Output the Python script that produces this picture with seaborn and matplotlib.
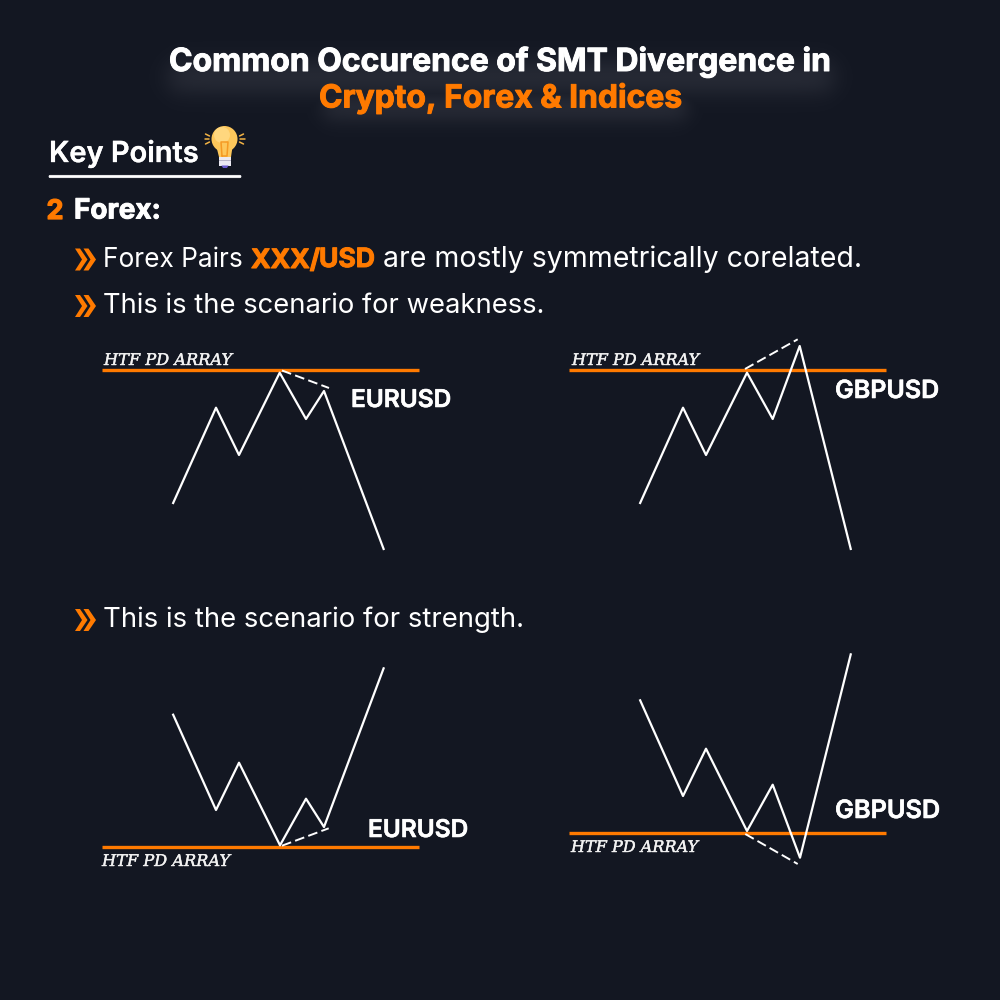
import numpy as np
import matplotlib
matplotlib.use("Agg")
import matplotlib.pyplot as plt
import matplotlib.patheffects as pe
from matplotlib.patches import Circle, Polygon, Rectangle, FancyBboxPatch
import seaborn as sns

BG = "#131722"
ORANGE = "#ff7a00"
SANS = "Inter"
SERIF = "DejaVu Serif"

# price paths (pixels, y going down)
weak_eur_x = [172.7, 216, 239, 279.7, 306, 324, 384]
weak_eur_y = [504, 407.7, 455, 372.7, 419, 391, 550]
weak_gbp_x = [639.7, 683, 706, 747, 772.7, 799.7, 851]
weak_gbp_y = [504, 407.7, 455, 372.7, 419, 346, 550]
strong_eur_x = [172.7, 216, 239, 280, 306, 324, 384]
strong_eur_y = [713.7, 810, 762.7, 845.3, 798.7, 827, 667.3]
strong_gbp_x = [639.7, 683, 706, 747, 772.7, 800, 851]
strong_gbp_y = [699.3, 796, 748.7, 831, 784.7, 857.7, 653.3]

# dashed lines joining the two swing points
weak_eur_dash = ([282, 329], [370.5, 388])
weak_gbp_dash = ([745, 797.7], [369, 339.3])
strong_eur_dash = ([282, 328.7], [845.7, 828.3])
strong_gbp_dash = ([745.3, 797.7], [834, 864])

# orange HTF PD array levels
level_x = [[102, 419], [569, 886], [102, 419], [569, 886]]
level_y = [370.3, 370.3, 847.3, 833.3]

paths = [(weak_eur_x, weak_eur_y), (weak_gbp_x, weak_gbp_y),
         (strong_eur_x, strong_eur_y), (strong_gbp_x, strong_gbp_y)]
dashes = [weak_eur_dash, weak_gbp_dash, strong_eur_dash, strong_gbp_dash]

sns.set_theme(style="dark", rc={"axes.facecolor": BG, "figure.facecolor": BG})

fig = plt.figure(figsize=(10, 10), dpi=100)
ax = fig.add_axes([0, 0, 1, 1])


def box_glow(xx, yy, x0, x1, y0, y1, blur):
    gx = 1 / (1 + np.exp((x0 - xx) / blur)) * 1 / (1 + np.exp((xx - x1) / blur))
    gy = 1 / (1 + np.exp((y0 - yy) / blur)) * 1 / (1 + np.exp((yy - y1) / blur))
    return gx * gy


# soft grey glow behind the title
xx, yy = np.meshgrid(np.arange(0, 1000, 2.0), np.arange(0, 220, 2.0))
glow = np.maximum(box_glow(xx, yy, 168, 832, 62, 90, 7),
                  box_glow(xx, yy, 322, 686, 95, 118, 6))
rgba = np.zeros(glow.shape + (4,))
rgba[..., :3] = matplotlib.colors.to_rgb("#3a3d47")
rgba[..., 3] = glow * 0.62
ax.imshow(rgba, extent=(0, 1000, 220, 0), aspect="auto", zorder=0, interpolation="bilinear")

for (lx, ly) in zip(level_x, level_y):
    sns.lineplot(x=lx, y=[ly, ly], color=ORANGE, linewidth=2.4, ax=ax, zorder=3,
                 estimator=None, sort=False, solid_capstyle="butt")
for (px, py) in paths:
    sns.lineplot(x=px, y=py, color="white", linewidth=1.6, ax=ax, zorder=4,
                 estimator=None, sort=False, solid_capstyle="butt")
for (dx, dy) in dashes:
    sns.lineplot(x=dx, y=dy, color="white", linewidth=1.4, ax=ax, zorder=4,
                 estimator=None, sort=False, linestyle=(0, (5, 2.2)))

ax.set_xlim(0, 1000)
ax.set_ylim(1000, 0)
ax.axis("off")
renderer = fig.canvas.get_renderer()


def fit_text(s, x0, x1, base, color="white", weight="normal", family=SANS, style="normal", stroke=0):
    # shrink or grow the font till the string spans x0..x1
    t = ax.text(x0, base, s, color=color, fontweight=weight, family=family, style=style,
                fontsize=20, va="baseline", ha="left", zorder=6)
    w = t.get_window_extent(renderer).width
    t.set_fontsize(20 * (x1 - x0) / w)
    if stroke:
        t.set_path_effects([pe.withStroke(linewidth=stroke, foreground=color)])
    return t


fit_text("Common Occurence of SMT Divergence in", 169, 832, 71, weight="bold", stroke=0.7)
fit_text("Crypto, Forex & Indices", 319, 683, 107.5, color=ORANGE, weight="bold", stroke=0.7)
fit_text("Key Points", 49, 199, 162, weight="semibold", stroke=0.25)
fit_text("2", 46.5, 63.5, 219, color=ORANGE, weight="bold", stroke=0.9)
fit_text("Forex:", 74, 161, 218.5, weight="bold", stroke=0.7)

fit_text("Forex Pairs", 103, 243, 267)
fit_text("XXX/", 251, 320, 268, color=ORANGE, weight="bold", stroke=0.8)
fit_text("USD", 319, 375, 267, color=ORANGE, weight="bold", stroke=0.7)
fit_text("are mostly symmetrically corelated.", 383, 862, 267)
fit_text("This is the scenario for weakness.", 103, 544, 313)
fit_text("This is the scenario for strength.", 103, 524, 627)

fit_text("EURUSD", 351, 451, 407, weight="semibold", stroke=0.4)
fit_text("GBPUSD", 835, 939, 398, weight="semibold", stroke=0.4)
fit_text("EURUSD", 368, 468, 837, weight="semibold", stroke=0.4)
fit_text("GBPUSD", 835, 940, 818, weight="semibold", stroke=0.4)

for (x0, x1, b) in [(104, 232, 365), (572, 699, 365), (102, 230, 866), (571, 698, 852)]:
    fit_text("HTF PD ARRAY", x0, x1, b, color="#f2f2f2", family=SERIF, style="italic", stroke=0.3)

# underline under Key Points
ax.add_patch(FancyBboxPatch((49, 175.3), 192, 2.4, boxstyle="round,pad=0,rounding_size=1.2",
                            fc="white", ec="white", lw=0.5, zorder=5))


def chevrons(xl, yc):
    # double arrow bullet
    for off in (0, 8.5):
        x = xl + off
        ax.add_patch(Polygon([(x, yc - 11), (x + 5, yc - 11), (x + 12.5, yc), (x + 5, yc + 11),
                              (x, yc + 11), (x + 7, yc)], closed=True,
                             fc=ORANGE, ec="none", zorder=5))


for yc in (259.5, 306, 620):
    chevrons(75, yc)

# light bulb next to Key Points
ax.add_patch(Circle((224.5, 139), 13, fc="#fdc75b", ec="none", zorder=5))
ax.add_patch(Polygon([(216.5, 147), (232.5, 147), (231, 157), (219, 157)], fc="#fdc75b", ec="none", zorder=5))
ax.add_patch(Circle((222, 135), 8, fc="#ffd77e", ec="none", zorder=5))
ax.add_patch(Rectangle((219, 156.5), 12, 9, fc="#eceaf2", ec="none", zorder=6))
ax.add_patch(Rectangle((219, 160), 12, 1.2, fc="#b9b6c8", ec="none", zorder=7))
ax.add_patch(Polygon([(221.5, 165.5), (228.5, 165.5), (227, 168), (223, 168)], fc="#6a5acd", ec="none", zorder=6))
ax.plot([222, 221, 228, 227, 222], [156, 142, 142, 156, 156], color="#f59a23", lw=1.1, zorder=7)
for rx, ry in [((205.5, 209.5), (134, 136)), ((204.5, 209), (139, 139)), ((205.5, 209.5), (144, 142)),
               ((239.5, 243.5), (136, 134)), ((240, 244.5), (139, 139)), ((239.5, 243.5), (142, 144))]:
    ax.plot(rx, ry, color="#f5b545", lw=1.1, zorder=5)

ax.set_xlim(0, 1000)
ax.set_ylim(1000, 0)
fig.savefig("out.png", dpi=100, facecolor=BG)
